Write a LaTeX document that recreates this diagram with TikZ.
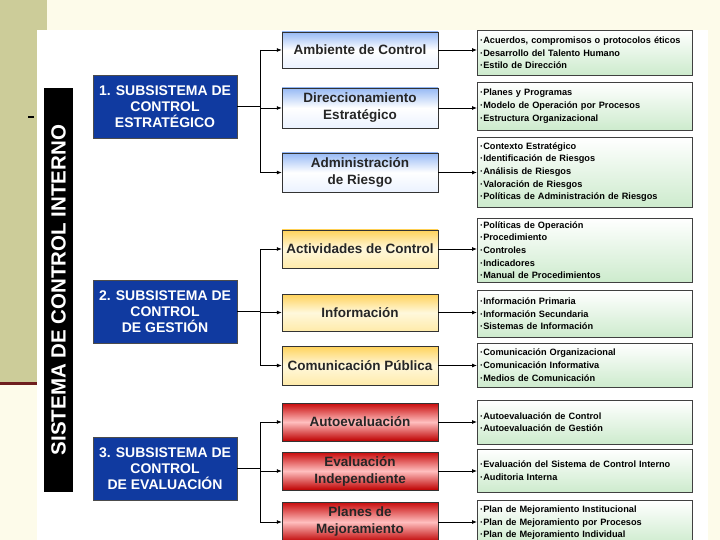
\documentclass[tikz,border=0pt]{standalone}
\usepackage{fontspec}
\setmainfont{Liberation Sans}
\usetikzlibrary{arrows.meta}
\definecolor{cream}{RGB}{253,251,234}
\definecolor{olive}{RGB}{204,204,153}
\definecolor{maroon}{RGB}{110,30,30}
\definecolor{subblue}{RGB}{16,58,160}
\definecolor{blT}{RGB}{150,185,245}
\definecolor{blB}{RGB}{235,242,255}
\definecolor{yeT}{RGB}{255,210,90}
\definecolor{yeB}{RGB}{255,235,170}
\definecolor{yeM}{RGB}{255,248,220}
\definecolor{reT}{RGB}{200,10,10}
\definecolor{reB}{RGB}{190,0,0}
\definecolor{reM}{RGB}{255,190,190}
\definecolor{grB}{RGB}{205,235,205}
\begin{document}
\begin{tikzpicture}[x=1pt,y=-1pt,
  sub/.style={draw=black!70,fill=subblue,text=white,font=\bfseries\fontsize{14}{16}\selectfont,align=center,minimum width=144pt,minimum height=63pt,inner sep=0pt},
  mid/.style={draw=black!80,text=black!85,font=\bfseries\fontsize{13.5}{17}\selectfont,align=center,minimum width=156pt,inner sep=0pt},
  bl/.style={mid,top color=blT,bottom color=blB,middle color=white},
  ye/.style={mid,top color=yeT,bottom color=yeB,middle color=yeM},
  re/.style={mid,top color=reT,bottom color=reB,middle color=reM},
  gr/.style={draw=black!75,top color=white,bottom color=grB,font=\bfseries\fontsize{9.2}{12.6}\selectfont,align=left,minimum width=215pt,text width=209pt,inner sep=3pt,anchor=north west},
  ar/.style={-{Latex[length=5pt,width=4pt]},black,line width=0.8pt}]
\useasboundingbox (0,0) rectangle (720,540);
\fill[cream] (0,0) rectangle (720,540);
\fill[olive] (0,0) rectangle (47,385);
\fill[white] (37,30) rectangle (708,540);
\fill[maroon] (0,382) rectangle (37,385);
\draw[line width=1.5pt] (28,117) -- (34,117);
\node[fill=black,minimum width=29pt,minimum height=404pt,inner sep=0pt] (bar) at (58.5,290) {};
\node[rotate=90,text=white,font=\bfseries\fontsize{20.5}{20}\selectfont] (bt) at (bar.center) {SISTEMA DE CONTROL INTERNO};
\node[sub] (s1) at (165,106.5) {1. SUBSISTEMA DE\\CONTROL\\ESTRATÉGICO};
\node[sub] (s2) at (165,311.5) {2. SUBSISTEMA DE\\CONTROL\\DE GESTIÓN};
\node[sub] (s3) at (165,468.5) {3. SUBSISTEMA DE\\CONTROL\\DE EVALUACIÓN};
\node[bl,minimum height=36pt] (m1) at (360,50) {Ambiente de Control};
\node[bl,minimum height=40pt] (m2) at (360,108) {Direccionamiento\\Estratégico};
\node[bl,minimum height=39pt] (m3) at (360,172.5) {Administración\\de Riesgo};
\node[ye,minimum height=38pt] (m4) at (360,249) {Actividades de Control};
\node[ye,minimum height=37pt] (m5) at (360,312.5) {Información};
\node[ye,minimum height=39pt] (m6) at (360,365.5) {Comunicación Pública};
\node[re,minimum height=38pt] (m7) at (360,422) {Autoevaluación};
\node[re,minimum height=38pt] (m8) at (360,471) {Evaluación\\Independiente};
\node[re,minimum height=40pt] (m9) at (360,522) {Planes de\\Mejoramiento};
\node[gr,minimum height=45pt] (g1) at (477,30) {·Acuerdos, compromisos o protocolos éticos\\·Desarrollo del Talento Humano\\·Estilo de Dirección};
\node[gr,minimum height=48pt] (g2) at (477,82) {·Planes y Programas\\·Modelo de Operación por Procesos\\·Estructura Organizacional};
\node[gr,minimum height=70pt] (g3) at (477,137) {·Contexto Estratégico\\·Identificación de Riesgos\\·Análisis de Riesgos\\·Valoración de Riesgos\\·Políticas de Administración de Riesgos};
\node[gr,minimum height=64pt] (g4) at (477,218) {·Políticas de Operación\\·Procedimiento\\·Controles\\·Indicadores\\·Manual de Procedimientos};
\node[gr,minimum height=47pt] (g5) at (477,290) {·Información Primaria\\·Información Secundaria\\·Sistemas de Información};
\node[gr,minimum height=44pt] (g6) at (477,343) {·Comunicación Organizacional\\·Comunicación Informativa\\·Medios de Comunicación};
\node[gr,minimum height=44pt] (g7) at (477,400) {·Autoevaluación de Control\\·Autoevaluación de Gestión};
\node[gr,minimum height=43pt] (g8) at (477,449) {·Evaluación del Sistema de Control Interno\\·Auditoria Interna};
\node[gr,minimum height=45pt] (g9) at (477,500) {·Plan de Mejoramiento Institucional\\·Plan de Mejoramiento por Procesos\\·Plan de Mejoramiento Individual};
\foreach \s/\a/\b/\c in {s1/m1/m2/m3,s2/m4/m5/m6,s3/m7/m8/m9}{
  \draw[line width=0.8pt] (\s.east) -- (\s.east -| 260,0);
  \draw[line width=0.8pt] (\a.west -| 260,0) -- (\c.west -| 260,0);
  \draw[ar] (\a.west -| 260,0) -- (\a.west);
  \draw[ar] (\b.west -| 260,0) -- (\b.west);
  \draw[ar] (\c.west -| 260,0) -- (\c.west);
}
\foreach \m/\g in {m1/g1,m2/g2,m3/g3,m4/g4,m5/g5,m6/g6,m7/g7,m8/g8,m9/g9}
  \draw[ar] (\m.east) -- (\m.east -| \g.west);
\end{tikzpicture}
\end{document}
